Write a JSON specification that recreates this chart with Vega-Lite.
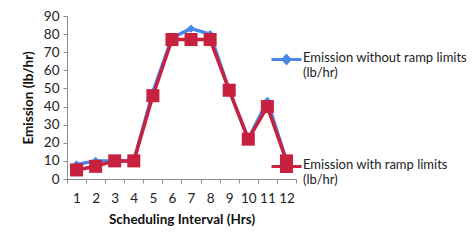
{
  "$schema": "https://vega.github.io/schema/vega-lite/v6.json",
  "width": 229,
  "height": 163,
  "autosize": {"type": "none"},
  "padding": {"left": 67, "top": 16, "right": 178, "bottom": 65},
  "background": "white",
  "config": {
    "view": {"stroke": null},
    "font": "Lato",
    "axis": {"labelFont": "Lato", "titleFont": "Lato", "labelFontSize": 13.5, "titleFontSize": 13.5, "labelColor": "#222", "titleColor": "#111", "domainColor": "#8c8c8c", "tickColor": "#8c8c8c", "grid": false}
  },
  "data": {"values": [
    {"t": "1", "s": "Emission without ramp limits", "v": 8},
    {"t": "2", "s": "Emission without ramp limits", "v": 10},
    {"t": "3", "s": "Emission without ramp limits", "v": 10},
    {"t": "4", "s": "Emission without ramp limits", "v": 10},
    {"t": "5", "s": "Emission without ramp limits", "v": 48},
    {"t": "6", "s": "Emission without ramp limits", "v": 78},
    {"t": "7", "s": "Emission without ramp limits", "v": 83},
    {"t": "8", "s": "Emission without ramp limits", "v": 80},
    {"t": "9", "s": "Emission without ramp limits", "v": 49},
    {"t": "10", "s": "Emission without ramp limits", "v": 22},
    {"t": "11", "s": "Emission without ramp limits", "v": 43},
    {"t": "12", "s": "Emission without ramp limits", "v": 10},
    {"t": "1", "s": "Emission with ramp limits", "v": 5},
    {"t": "2", "s": "Emission with ramp limits", "v": 7},
    {"t": "3", "s": "Emission with ramp limits", "v": 10},
    {"t": "4", "s": "Emission with ramp limits", "v": 10},
    {"t": "5", "s": "Emission with ramp limits", "v": 46},
    {"t": "6", "s": "Emission with ramp limits", "v": 77},
    {"t": "7", "s": "Emission with ramp limits", "v": 77},
    {"t": "8", "s": "Emission with ramp limits", "v": 77},
    {"t": "9", "s": "Emission with ramp limits", "v": 49},
    {"t": "10", "s": "Emission with ramp limits", "v": 22},
    {"t": "11", "s": "Emission with ramp limits", "v": 40},
    {"t": "12", "s": "Emission with ramp limits", "v": 10}
  ]},
  "encoding": {
    "x": {"field": "t", "type": "ordinal", "sort": null, "title": "Scheduling Interval (Hrs)",
      "scale": {"paddingInner": 0, "paddingOuter": 0},
      "axis": {"labelAngle": 0, "tickBand": "extent", "tickSize": 4, "labelPadding": 8, "titlePadding": 8, "titleFontWeight": "bold"}},
    "y": {"field": "v", "type": "quantitative", "title": "Emission (lb/hr)",
      "scale": {"domain": [0, 90], "nice": false},
      "axis": {"values": [0,10,20,30,40,50,60,70,80,90], "tickSize": 4, "labelPadding": 4, "titlePadding": 8, "titleFontWeight": "bold"}},
    "color": {"field": "s", "type": "nominal", "sort": ["Emission without ramp limits", "Emission with ramp limits"],
      "scale": {"domain": ["Emission without ramp limits", "Emission with ramp limits"], "range": ["#4a88e6", "#c8213f"]},
      "legend": {"title": null, "orient": "none", "legendX": 203, "legendY": 27, "rowPadding": 70,
        "labelExpr": "[datum.label, '(lb/hr)']", "labelFont": "Lato", "labelFontSize": 13, "labelColor": "#222", "labelLimit": 300, "labelOffset": 0, "labelBaseline": "top",
        "symbolType": "M-1,0H1M-0.22,0L0,-0.25L0.22,0L0,0.25Z", "symbolSize": 900, "symbolStrokeWidth": 3,
        "encode": {"symbols": {"update": {"shape": {"signal": "datum.value === 'Emission without ramp limits' ? 'M-1,0H1M-0.22,0L0,-0.25L0.22,0L0,0.25Z' : 'M-1,0H1M-0.33,-0.33H0.33V0.33H-0.33Z'"}, "fill": {"signal": "datum.value === 'Emission without ramp limits' ? '#4a88e6' : '#c8213f'"}}}, "labels": {"update": {"dy": {"value": -8}}}}}
    }
  },
  "layer": [
    {"mark": {"type": "line", "strokeWidth": 3.5}},
    {"transform": [{"filter": "datum.s === 'Emission without ramp limits'"}],
      "mark": {"type": "point", "filled": true, "opacity": 1, "shape": "diamond", "size": 70}},
    {"transform": [{"filter": "datum.s === 'Emission with ramp limits'"}],
      "mark": {"type": "point", "filled": true, "opacity": 1, "shape": "square", "size": 170}}
  ]
}
